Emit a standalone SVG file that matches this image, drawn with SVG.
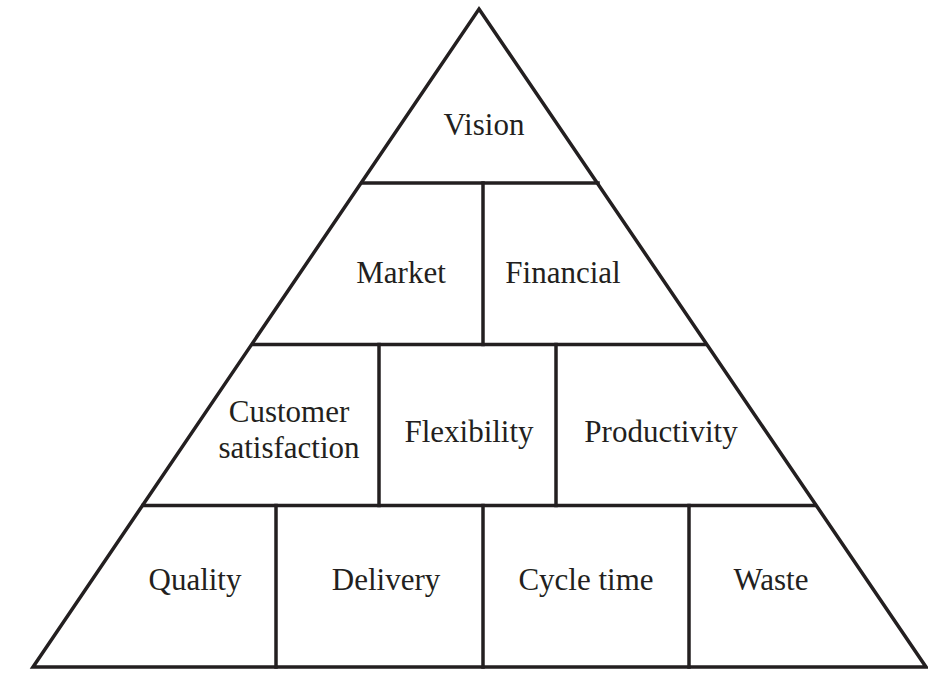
<svg xmlns="http://www.w3.org/2000/svg" width="928" height="693" viewBox="0 0 928 693">
<style>
.ln{stroke:#231f20;stroke-width:3.5;fill:none;stroke-linejoin:miter;stroke-linecap:square}
.t{font-family:"Liberation Serif","Times New Roman",serif;font-size:31px;fill:#231f20;text-anchor:middle}
</style>
<rect width="928" height="693" fill="#fff"/>
<g id="connectors">
<polygon class="ln" points="479,9 926,667 33,667"/>
<line class="ln" x1="362" y1="183" x2="598" y2="183"/>
<line class="ln" x1="253" y1="344.5" x2="705" y2="344.5"/>
<line class="ln" x1="143" y1="505.5" x2="815" y2="505.5"/>
<line class="ln" x1="483" y1="183" x2="483" y2="344.5"/>
<line class="ln" x1="379" y1="344.5" x2="379" y2="505.5"/>
<line class="ln" x1="556" y1="344.5" x2="556" y2="505.5"/>
<line class="ln" x1="276" y1="505.5" x2="276" y2="667"/>
<line class="ln" x1="483" y1="505.5" x2="483" y2="667"/>
<line class="ln" x1="689" y1="505.5" x2="689" y2="667"/>
</g>
<g id="vision"><text class="t" x="484" y="135">Vision</text></g>
<g id="market"><text class="t" x="401" y="283">Market</text></g>
<g id="financial"><text class="t" x="563" y="283">Financial</text></g>
<g id="customer"><text class="t" x="289" y="422">Customer</text><text class="t" x="289" y="458">satisfaction</text></g>
<g id="flexibility"><text class="t" x="469" y="442">Flexibility</text></g>
<g id="productivity"><text class="t" x="661" y="442">Productivity</text></g>
<g id="quality"><text class="t" x="195" y="590">Quality</text></g>
<g id="delivery"><text class="t" x="386" y="590">Delivery</text></g>
<g id="cycletime"><text class="t" x="586" y="590">Cycle time</text></g>
<g id="waste"><text class="t" x="771" y="590">Waste</text></g>
</svg>
